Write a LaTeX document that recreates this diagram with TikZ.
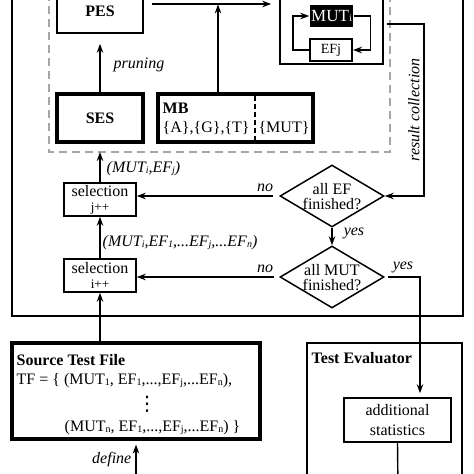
\documentclass[tikz,border=0pt]{standalone}
\usepackage{fontspec}
\setmainfont{Liberation Serif}
\newfontfamily\dejavu{DejaVu Sans}
\usetikzlibrary{arrows.meta,shapes.geometric}
\newcommand\lsub[1]{\raisebox{-0.8pt}{\fontsize{10}{10}\selectfont #1}}
\begin{document}
\begin{tikzpicture}[x=1pt,y=-1pt,
  >={Stealth[length=9pt,width=6.5pt]},
  line width=1.4pt,
  every node/.style={font=\fontsize{16}{16}\selectfont, inner sep=0pt},
  box/.style={draw, line width=1.6pt, rectangle},
  tbox/.style={draw, line width=3.2pt, rectangle},
  lab/.style={font=\fontsize{16}{16}\selectfont\itshape},
  dia/.style={diamond, draw, line width=1.5pt, minimum width=104, minimum height=62},
  diatext/.style={align=center, font=\fontsize{16}{15}\selectfont}]
\useasboundingbox (0,0) rectangle (474,474);
\clip (0,0) rectangle (474,474);
% outer frames
\draw[line width=2pt] (12,-20) rectangle (463,316);
\draw[gray!70, line width=1.5pt, dash pattern=on 8pt off 5pt] (49,-20) rectangle (390,152);
% PES and top box
\node[box, minimum width=86, minimum height=58] (pes) at (100,4) {};
\node (pest) at (100,11) {\bfseries PES};
\node[box, minimum width=103, minimum height=120] (tb) at (331.5,4) {};
\node[fill=black, text=white, minimum width=43, minimum height=22, font=\fontsize{17}{17}\selectfont] (muti) at (331.5,16) {MUT\lsub{i}};
\node[draw, line width=2pt, minimum width=42, minimum height=22, font=\fontsize{14}{14}\selectfont] (efj) at (331,50) {EFj};
\draw[->] (muti.east) -- ++(17,0) |- (efj.east);
\draw[->] (efj.west) -- ++(-16,0) |- (muti.west);
% SES and MB
\node[tbox, minimum width=86, minimum height=48] (ses) at (100,118) {\bfseries SES};
\node[tbox, minimum width=155, minimum height=48] (mb) at (235.5,118) {};
\node[anchor=west] (mbt) at (162,108) {\bfseries MB};
\node[anchor=west] (mbl) at (162,128) {\{A\},\{G\},\{T\}};
\node (mbr) at (284,128) {\{MUT\}};
\draw[line width=1.5pt, dash pattern=on 5pt off 3pt] (255,96) -- (255,140);
\draw[->, shorten >=10] (ses.north) -- (pes.south);
\node[lab] (prun) at (139,65) {pruning};
\draw[->, shorten <=8, shorten >=8] (pes.east) -- (tb.west);
\draw[->] ([xshift=-17.5]mb.north) -- ++(0,-88);
% diamonds
\node[dia] (ef) at (332,196) {};
\node[diatext] (eft) at (332,197) {all EF\\finished?};
\node[dia] (mut) at (332,277) {};
\node[diatext] (mutt) at (332,278) {all MUT\\finished?};
\draw[->] (ef.south) -- (mut.north);
\node[lab] (yes1) at (354,233) {yes};
% result collection
\draw[->] ([xshift=3pt, yshift=-20pt]tb.east) -- ++(37,0) |- (ef.east);
\node[lab, rotate=90] (rc) at (414,110) {result collection};
% selections
\node[box, align=center, minimum width=72, minimum height=33, font=\fontsize{16}{15}\selectfont] (selj) at (100,199.5) {selection\\{\fontsize{13}{13}\selectfont j++}};
\node[box, align=center, minimum width=72, minimum height=33, font=\fontsize{16}{15}\selectfont] (seli) at (100,275.5) {selection\\{\fontsize{13}{13}\selectfont i++}};
\draw[->, shorten <=6] (ef.west) -- (ef.west -| selj.east);
\node[lab] (no1) at (265,188) {no};
\draw[->, shorten <=5] (mut.west) -- (mut.west -| seli.east);
\node[lab] (no2) at (265,269) {no};
\coordinate (db) at (100,152);
\draw[->] (selj.north) -- (db);
\node[lab, anchor=west] (l1) at (106,169) {(MUT\lsub{i},EF\lsub{j})};
\draw[->] (seli.north) -- (selj.south);
\node[lab, anchor=west] (l2) at (102,243) {(MUT\lsub{i},EF\lsub{1},...EF\lsub{j},...EF\lsub{n})};
% source test file
\node[tbox, minimum width=248, minimum height=96] (src) at (136,391) {};
\node[anchor=west] (srct) at (16,360) {\bfseries Source Test File};
\node[anchor=west] (tf1) at (16,381) {TF = \{ (MUT\lsub{1}, EF\lsub{1},...,EF\lsub{j},...EF\lsub{n}),};
\node[font=\dejavu\fontsize{20}{20}\selectfont] (vd) at (147,404) {⋮};
\node[anchor=west] (tf2) at (64,428) {(MUT\lsub{n}, EF\lsub{1},...,EF\lsub{j},...EF\lsub{n}) \}};
\draw[->] (src.north -| seli.south) -- (seli.south);
\coordinate (din) at (136,480);
\draw[->, shorten >=4] (din) -- (src.south);
\node[lab, anchor=east] (def) at (132,460) {define};
% test evaluator
\node[box, minimum width=155, minimum height=160] (te) at (384.5,423) {};
\node[anchor=west] (tet) at (311,358) {\bfseries Test Evaluator};
\node[box, align=center, minimum width=107, minimum height=44, font=\fontsize{16}{20}\selectfont] (stat) at (397.5,420) {additional\\statistics};
\draw[->, shorten <=3, shorten >=4] (mut.east) -| ([xshift=22.5pt]stat.north);
\node[lab] (yes2) at (403,267) {yes};
\coordinate (sout) at (398,490);
\draw[->] (stat.south) -- (sout);
\end{tikzpicture}
\end{document}
